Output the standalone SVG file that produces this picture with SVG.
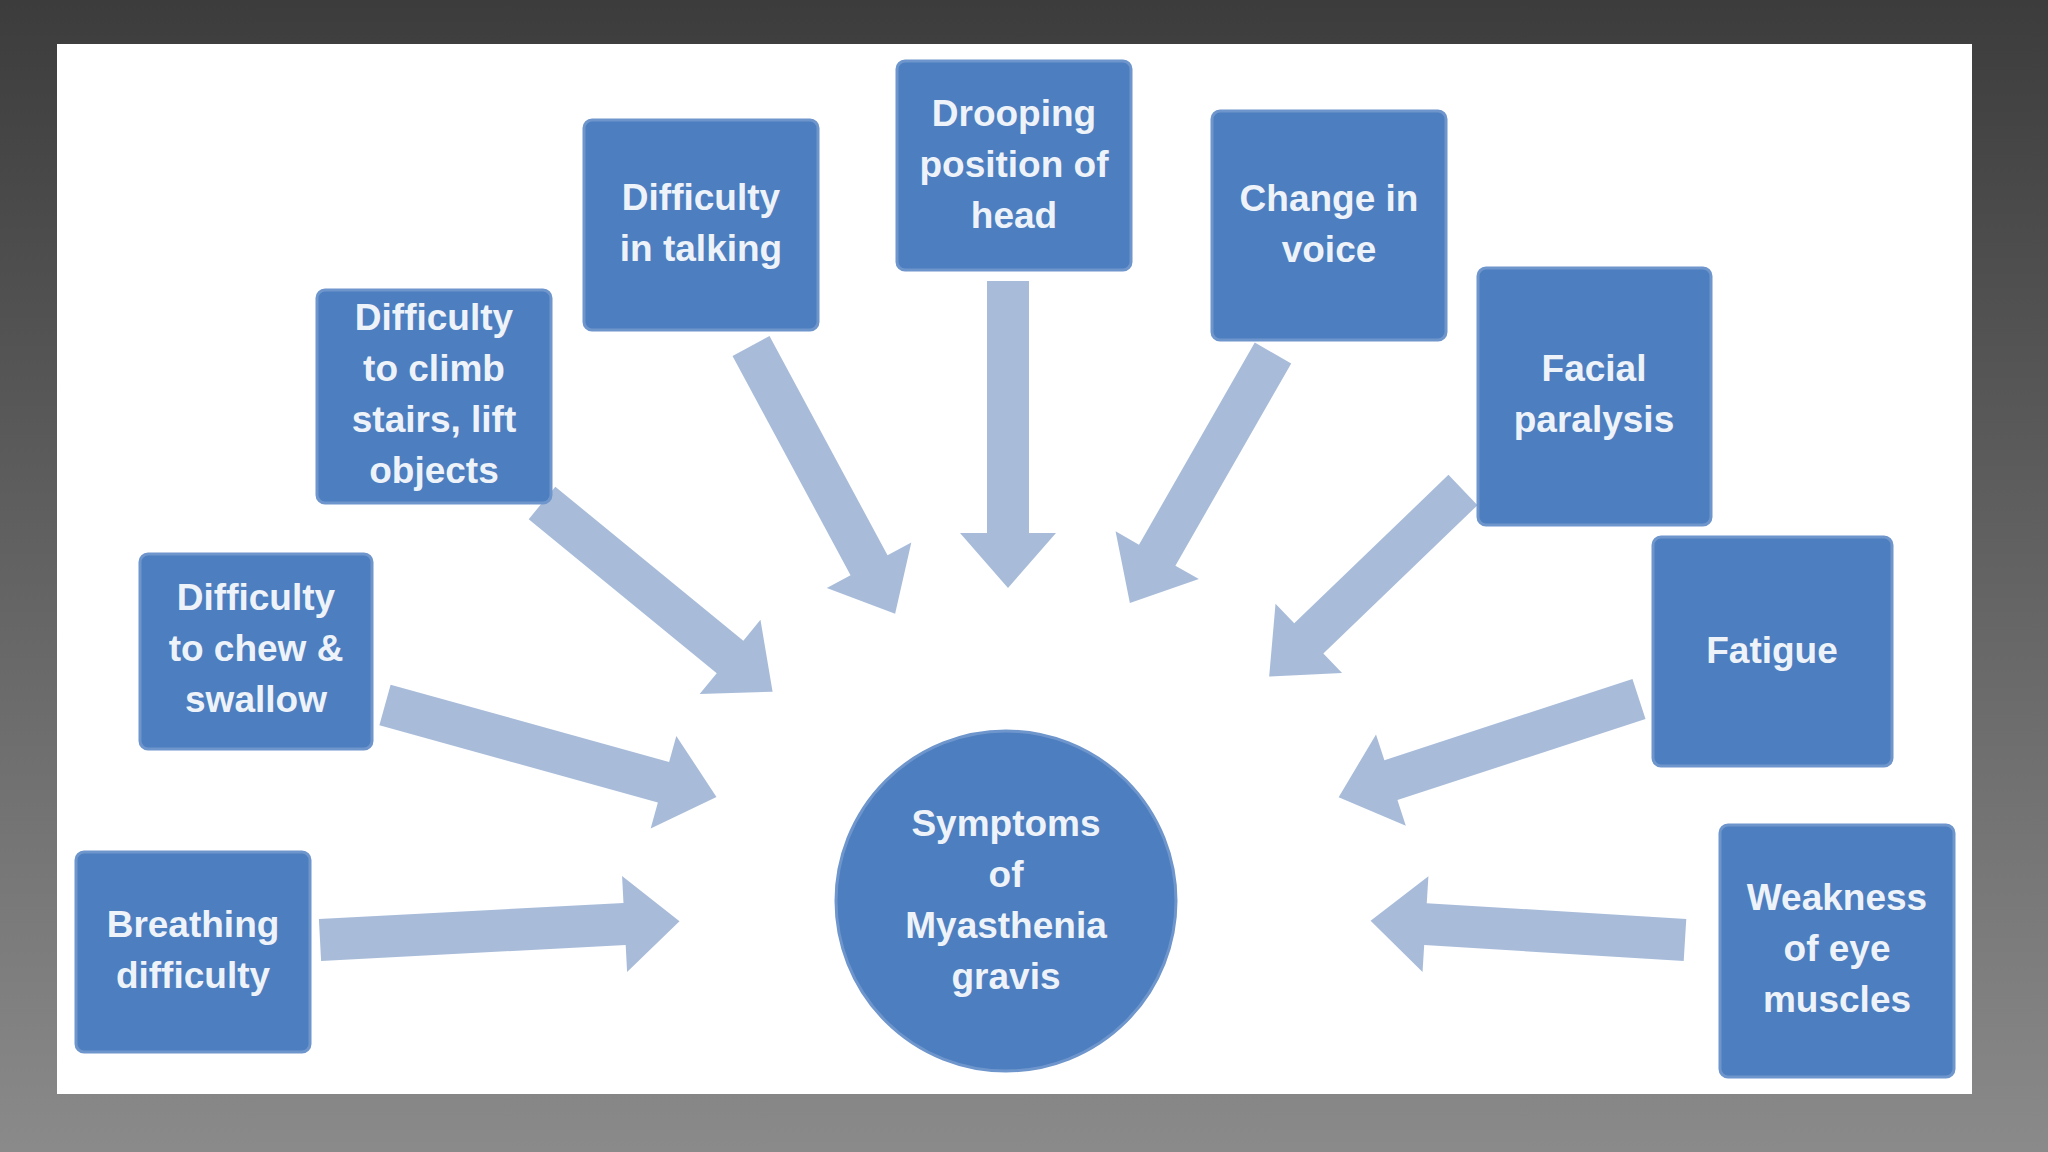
<svg xmlns="http://www.w3.org/2000/svg" width="2048" height="1152" viewBox="0 0 2048 1152">
<defs>
<linearGradient id="bg" x1="0" y1="0" x2="0" y2="1"><stop offset="0" stop-color="#3c3c3c"/><stop offset="1" stop-color="#8a8a8a"/></linearGradient>
<style>
.box{fill:#4d7ebf;stroke:#6e96cc;stroke-width:3}
.arr{fill:#a8bcda}
.t{font-family:"Liberation Sans",Arial,sans-serif;font-weight:bold;font-size:37px;fill:#eef3fa;text-anchor:middle}
</style>
</defs>
<rect width="2048" height="1152" fill="url(#bg)"/>
<rect x="57" y="44" width="1915" height="1050" fill="#ffffff"/>
<g id="connectors">
<path class="arr" transform="translate(320,940) rotate(-3)" d="M0,-21 L305,-21 L305,-48 L360,0 L305,48 L305,21 L0,21 Z"/>
<path class="arr" transform="translate(385,705) rotate(15.5)" d="M0,-21 L289,-21 L289,-48 L344,0 L289,48 L289,21 L0,21 Z"/>
<path class="arr" transform="translate(542,503) rotate(39.3)" d="M0,-21 L243,-21 L243,-48 L298,0 L243,48 L243,21 L0,21 Z"/>
<path class="arr" transform="translate(751,346) rotate(61.7)" d="M0,-21 L249,-21 L249,-48 L304,0 L249,48 L249,21 L0,21 Z"/>
<path class="arr" transform="translate(1008,281) rotate(90)" d="M0,-21 L252,-21 L252,-48 L307,0 L252,48 L252,21 L0,21 Z"/>
<path class="arr" transform="translate(1273,353) rotate(119.8)" d="M0,-21 L233,-21 L233,-48 L288,0 L233,48 L233,21 L0,21 Z"/>
<path class="arr" transform="translate(1463,490) rotate(136.1)" d="M0,-21 L214,-21 L214,-48 L269,0 L214,48 L214,21 L0,21 Z"/>
<path class="arr" transform="translate(1639,699) rotate(161.9)" d="M0,-21 L261,-21 L261,-48 L316,0 L261,48 L261,21 L0,21 Z"/>
<path class="arr" transform="translate(1685,940) rotate(183.5)" d="M0,-21 L260,-21 L260,-48 L315,0 L260,48 L260,21 L0,21 Z"/>
</g>
<g id="center"><circle cx="1006" cy="901" r="170" class="box"/>
<text class="t" x="1006" y="836">Symptoms</text><text class="t" x="1006" y="887">of</text><text class="t" x="1006" y="938">Myasthenia</text><text class="t" x="1006" y="989">gravis</text></g>
<g id="n1"><rect class="box" x="76" y="852" width="234" height="200" rx="8"/><text class="t" x="193" y="937">Breathing</text><text class="t" x="193" y="988">difficulty</text></g>
<g id="n2"><rect class="box" x="140" y="554" width="232" height="195" rx="8"/><text class="t" x="256" y="610">Difficulty</text><text class="t" x="256" y="661">to chew &amp;</text><text class="t" x="256" y="712">swallow</text></g>
<g id="n3"><rect class="box" x="317" y="290" width="234" height="213" rx="8"/><text class="t" x="434" y="330">Difficulty</text><text class="t" x="434" y="381">to climb</text><text class="t" x="434" y="432">stairs, lift</text><text class="t" x="434" y="483">objects</text></g>
<g id="n4"><rect class="box" x="584" y="120" width="234" height="210" rx="8"/><text class="t" x="701" y="210">Difficulty</text><text class="t" x="701" y="261">in talking</text></g>
<g id="n5"><rect class="box" x="897" y="61" width="234" height="209" rx="8"/><text class="t" x="1014" y="126">Drooping</text><text class="t" x="1014" y="177">position of</text><text class="t" x="1014" y="228">head</text></g>
<g id="n6"><rect class="box" x="1212" y="111" width="234" height="229" rx="8"/><text class="t" x="1329" y="211">Change in</text><text class="t" x="1329" y="262">voice</text></g>
<g id="n7"><rect class="box" x="1478" y="268" width="233" height="257" rx="8"/><text class="t" x="1594" y="381">Facial</text><text class="t" x="1594" y="432">paralysis</text></g>
<g id="n8"><rect class="box" x="1653" y="537" width="239" height="229" rx="8"/><text class="t" x="1772" y="663">Fatigue</text></g>
<g id="n9"><rect class="box" x="1720" y="825" width="234" height="252" rx="8"/><text class="t" x="1837" y="910">Weakness</text><text class="t" x="1837" y="961">of eye</text><text class="t" x="1837" y="1012">muscles</text></g>
</svg>
